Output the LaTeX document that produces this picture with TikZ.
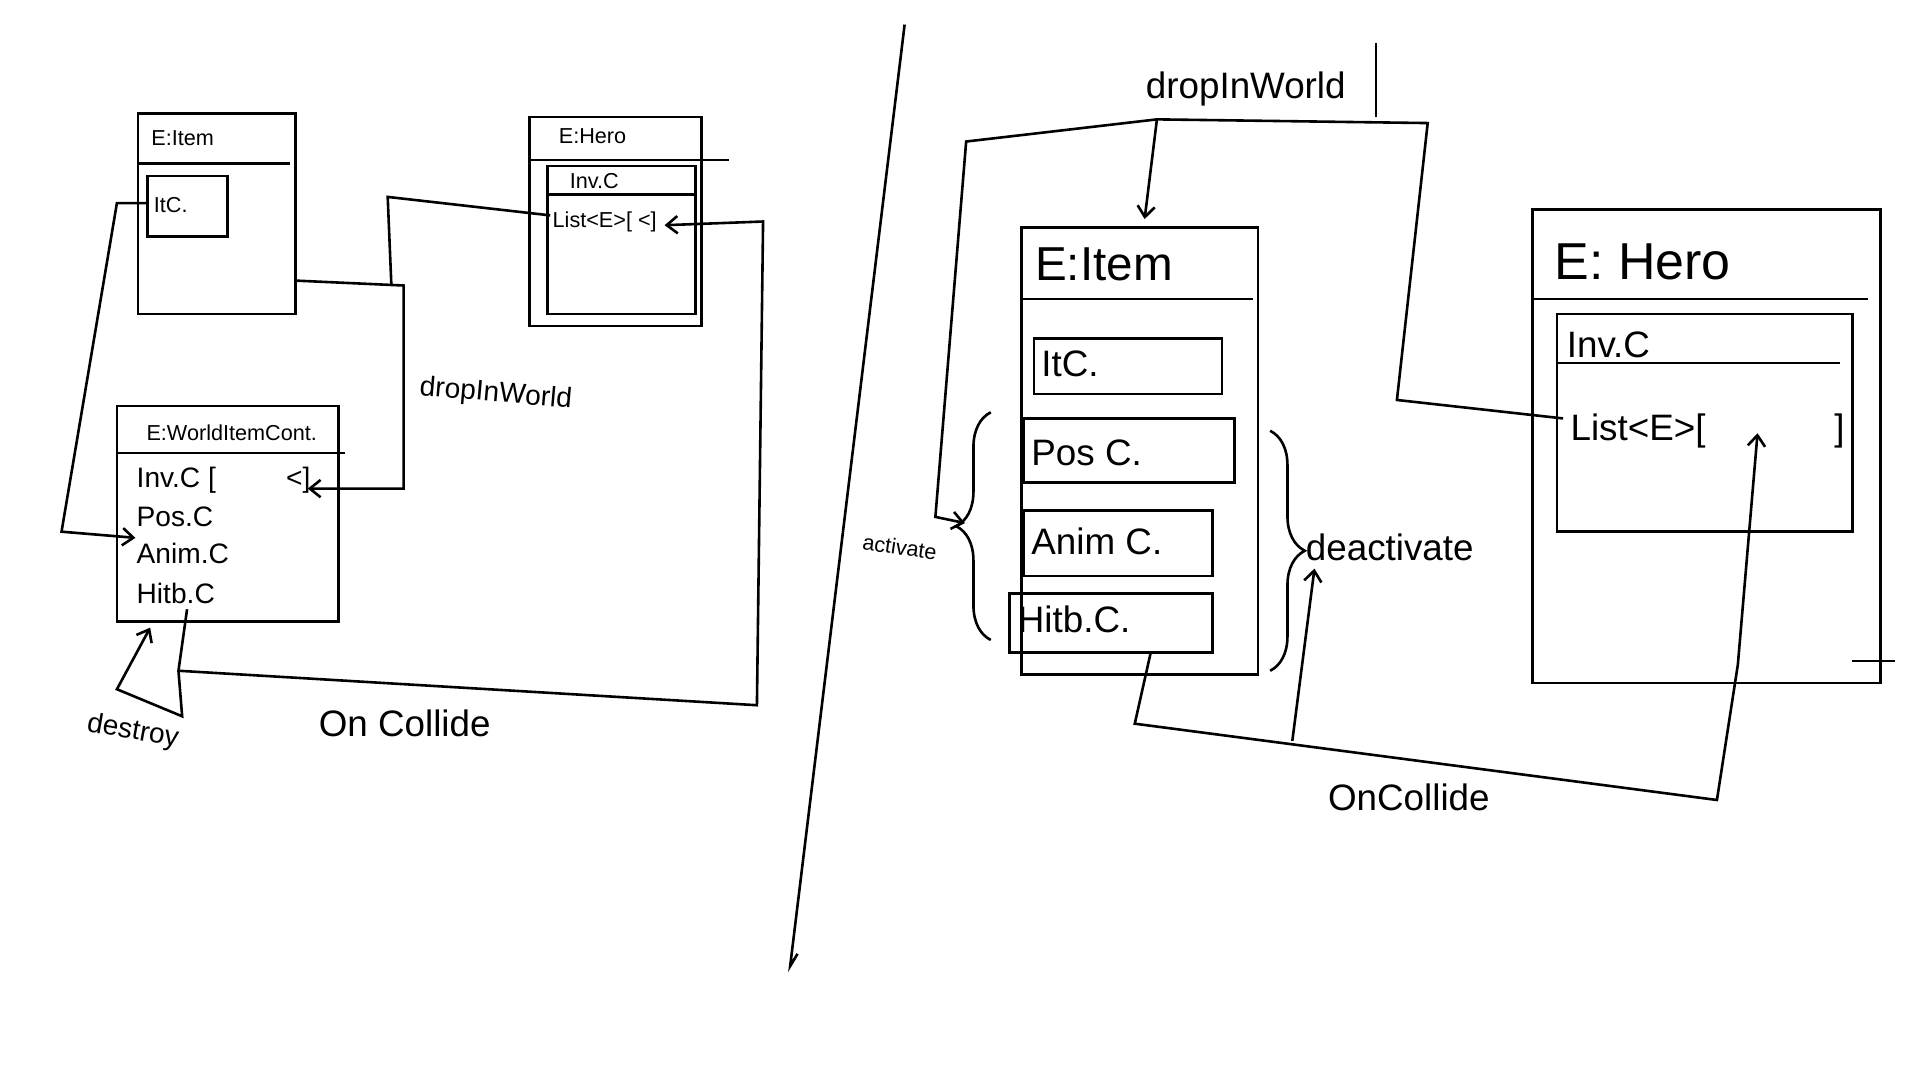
\documentclass[tikz,border=0pt]{standalone}
\usepackage{fontspec}
\setmainfont{Liberation Sans}
\usetikzlibrary{arrows.meta,decorations.pathreplacing}
\begin{document}
\begin{tikzpicture}[x=0.01cm,y=-0.01cm,line width=0.6pt,
  txt/.style={inner sep=0pt,anchor=west},
  sm/.style={txt,font=\fontsize{5}{6}\selectfont},
  md/.style={txt,font=\fontsize{6.5}{7.5}\selectfont},
  lg/.style={txt,font=\fontsize{8.5}{10}\selectfont},
  arr/.style={-{Straight Barb[length=2.5pt,width=4pt]}}]
\useasboundingbox (0,0) rectangle (1560,877);
\fill[white] (0,0) rectangle (1560,877);
% divider
\draw (735,20) -- (642,785) -- (648,775);
% ---------- left ----------
\draw (112,92) rectangle (240,255);
\draw (112,133) -- (236,133);
\node[sm] (litemt) at (122,112) {E:Item};
\draw (120,143) rectangle (185,192);
\node[sm] (litc) at (124,167) {ItC.};
\draw (430,95) rectangle (570,265);
\draw (430,130) -- (592,130);
\node[sm] (lherot) at (453,111) {E:Hero};
\draw (445,135) rectangle (565,255);
\draw (445,158) -- (565,158);
\node[sm] (linv) at (462,147) {Inv.C};
\node[sm] (llist) at (448,180) {List<E>[ <]};
\draw (95,330) rectangle (275,505);
\draw (95,368) -- (280,368);
\node[sm] (lwt) at (118,352) {E:WorldItemCont.};
\node[md] (lwinv) at (110,390) {Inv.C [\hspace{2.5em}<]};
\node[md] (lwpos) at (110,420) {Pos.C};
\node[md] (lwanim) at (110,450) {Anim.C};
\node[md] (lwhit) at (110,482) {Hitb.C};
\coordinate (a1) at (110,437);
\draw[arr] (120,165) -- (95,165) -- (50,432) -- (a1);
\draw (447,175) -- (315,160) -- (318,232);
\draw[arr] (240,228) -- (328,232) -- (328,397) -- (250,397);
\node[md,rotate=-5] (ldrop) at (340,315) {dropInWorld};
\draw[arr] (152,495) -- (145,545) -- (615,573) -- (620,180) -- (540,183);
\node[lg] (lcol) at (258,588) {On Collide};
\draw[arr] (145,545) -- (148,582) -- (95,560) -- (122,510);
\node[md,rotate=-10] (ldes) at (70,588) {destroy};
% ---------- right ----------
\draw (830,185) rectangle (1022,548);
\draw (830,243) -- (1018,243);
\node[txt,font=\fontsize{11}{13}\selectfont] (ritemt) at (840,215) {E:Item};
\draw (840,275) rectangle (993,320);
\node[lg] (ritc) at (845,296) {ItC.};
\draw (832,340) rectangle (1003,392);
\node[lg] (rpos) at (837,368) {Pos C.};
\draw (832,415) rectangle (985,468);
\node[lg] (ranim) at (837,440) {Anim C.};
\draw (820,482) rectangle (985,530);
\node[lg] (rhit) at (826,503) {Hitb.C.};
\draw (1245,170) rectangle (1528,555);
\draw (1245,243) -- (1518,243);
\node[txt,font=\fontsize{12}{14}\selectfont] (rherot) at (1262,213) {E: Hero};
\draw (1265,255) rectangle (1505,432);
\draw (1265,295) -- (1495,295);
\node[lg] (rinv) at (1272,280) {Inv.C};
\node[lg] (rlist) at (1275,350) {List<E>[\hspace{3.5em}]};
\draw (1505,537) -- (1540,537);
% dropInWorld
\draw (1118,35) -- (1118,95);
\draw[arr] (1270,340) -- (1135,325) -- (1160,100) -- (940,97) -- (785,115) -- (760,420) -- (784,425);
\draw[arr] (940,97) -- (930,178);
\node[lg] (rdrop) at (930,72) {dropInWorld};
\draw[decorate,decoration={brace,amplitude=8pt,mirror}] (805,335) -- (805,520);
\node[sm,rotate=-8] (ract) at (700,440) {activate};
\draw[decorate,decoration={brace,amplitude=8pt}] (1032,350) -- (1032,545);
\node[lg] (rdeact) at (1060,445) {deactivate};
\draw[arr] (935,530) -- (922,588) -- (1395,650) -- (1412,540) -- (1428,352);
\draw[arr] (1050,602) -- (1068,462);
\node[lg] (rcol) at (1078,648) {OnCollide};
\end{tikzpicture}
\end{document}
